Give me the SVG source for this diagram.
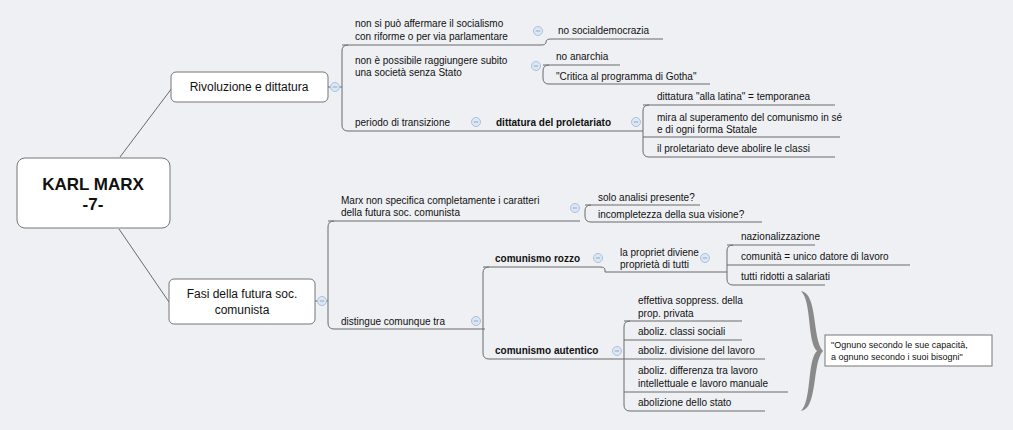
<svg xmlns="http://www.w3.org/2000/svg" width="1013" height="430" viewBox="0 0 1013 430">
<defs>
<style>
text{font-family:"Liberation Sans",Arial,sans-serif;font-size:10px;fill:#111}
.b{font-weight:bold}
.box{fill:#fff;stroke:#777;stroke-width:1}
.ln{fill:none;stroke:#6a6a6a;stroke-width:1}
.c{fill:#dde7f3;stroke:#a9c1de;stroke-width:1}
.m{stroke:#8fa9cc;stroke-width:1}
</style>
<g id="col"><circle class="c" cx="0" cy="0" r="4.5"/><line class="m" x1="-2.2" y1="0" x2="2.2" y2="0"/></g>
</defs>
<rect width="1013" height="430" fill="#eef0f3"/>
<g id="connectors">
<path class="ln" d="M120,157 L172,88 M119,229 L169,302"/>
<path class="ln" d="M328,87 H342 M348,45 Q342,45 342,51 V125 Q342,131 348,131 H485"/>
<path class="ln" d="M342,45 H541 Q546,45 546,42 Q546,39 551,39 H663"/>
<path class="ln" d="M549,65 Q543,65 543,71 V78 Q543,84 549,84 H710 M543,65 H620"/>
<path class="ln" d="M485,131 H640 M649,105 Q643,105 643,111 V151 Q643,157 649,157 H835 M643,105 H835 M643,137 H840 M640,131 H643"/>
<path class="ln" d="M315,301 H328 M334,221 Q328,221 328,227 V323 Q328,329 334,329 H485 M328,221 H580 M591,205 Q585,205 585,211 V216 Q585,222 591,222 H762 M585,205 H700"/>
<path class="ln" d="M489,267 Q483,267 483,273 V353 Q483,359 489,359 H624 M483,267 H600 Q605,267 605,270 V272 H727 M733,245 Q727,245 727,251 V279 Q727,285 733,285 H825 M727,245 H815 M727,265 H910"/>
<path class="ln" d="M630,321 Q624,321 624,327 V405 Q624,411 630,411 H765 M624,321 H742 M624,340 H742 M624,359 H765 M624,392 H788"/>
<path d="M801,291 C818,293 812,340 823,351 C812,362 818,409 801,411 C812,400 807,360 817,351 C807,342 812,302 801,291 Z" fill="#8a8a8a"/>
</g>
<g id="root"><rect class="box" x="17" y="158" width="153" height="70" rx="8"/><text class="b" x="93" y="190" text-anchor="middle" style="font-size:17px">KARL MARX</text><text class="b" x="93" y="210" text-anchor="middle" style="font-size:17px">-7-</text></g>
<g id="rivoluzione"><rect class="box" x="171" y="72" width="157" height="30" rx="5"/><text x="249" y="91" text-anchor="middle" style="font-size:12px">Rivoluzione e dittatura</text><use href="#col" x="335" y="87"/></g>
<g id="fasi"><rect class="box" x="169" y="279" width="146" height="45" rx="5"/><text x="242" y="298" text-anchor="middle" style="font-size:12px">Fasi della futura soc.</text><text x="242" y="314" text-anchor="middle" style="font-size:12px">comunista</text><use href="#col" x="322" y="301"/></g>
<g id="n1"><text x="355" y="27">non si può affermare il socialismo</text><text x="355" y="40">con riforme o per via parlamentare</text><use href="#col" x="538" y="31"/></g>
<g id="n1a"><text x="558" y="34">no socialdemocrazia</text></g>
<g id="n2"><text x="355" y="64">non è possibile raggiungere subito</text><text x="355" y="76">una società senza Stato</text><use href="#col" x="536" y="66"/></g>
<g id="n2a"><text x="556" y="60">no anarchia</text></g>
<g id="n2b"><text x="556" y="80">"Critica al programma di Gotha"</text></g>
<g id="n3"><text x="355" y="126">periodo di transizione</text><use href="#col" x="476" y="122"/></g>
<g id="n3a"><text class="b" x="496" y="126">dittatura del proletariato</text><use href="#col" x="636" y="122"/></g>
<g id="n3a1"><text x="657" y="100">dittatura "alla latina" = temporanea</text></g>
<g id="n3a2"><text x="657" y="121">mira al superamento del comunismo in sé</text><text x="657" y="133">e di ogni forma Statale</text></g>
<g id="n3a3"><text x="657" y="152">il proletariato deve abolire le classi</text></g>
<g id="m1"><text x="341" y="204">Marx non specifica completamente i caratteri</text><text x="341" y="216">della futura soc. comunista</text><use href="#col" x="575" y="208"/></g>
<g id="m1a"><text x="598" y="201">solo analisi presente?</text></g>
<g id="m1b"><text x="598" y="218">incompletezza della sua visione?</text></g>
<g id="m2"><text x="341" y="325">distingue comunque tra</text><use href="#col" x="476" y="321"/></g>
<g id="rozzo"><text class="b" x="495" y="262">comunismo rozzo</text><use href="#col" x="598" y="258"/></g>
<g id="rozzo1"><text x="620" y="256">la propriet diviene</text><text x="620" y="268">proprietà di tutti</text><use href="#col" x="705" y="258"/></g>
<g id="r1"><text x="741" y="240">nazionalizzazione</text></g>
<g id="r2"><text x="741" y="260">comunità = unico datore di lavoro</text></g>
<g id="r3"><text x="741" y="280">tutti ridotti a salariati</text></g>
<g id="autentico"><text class="b" x="495" y="354">comunismo autentico</text><use href="#col" x="617" y="351"/></g>
<g id="a1"><text x="638" y="304">effettiva soppress. della</text><text x="638" y="317">prop. privata</text></g>
<g id="a2"><text x="638" y="335">aboliz. classi sociali</text></g>
<g id="a3"><text x="638" y="354">aboliz. divisione del lavoro</text></g>
<g id="a4"><text x="638" y="374">aboliz. differenza tra lavoro</text><text x="638" y="387">intellettuale e lavoro manuale</text></g>
<g id="a5"><text x="638" y="406">abolizione dello stato</text></g>
<g id="quote"><rect x="825" y="335" width="167" height="31" fill="#fff" stroke="#777"/><text x="831" y="348" style="font-size:9px">"Ognuno secondo le sue capacità,</text><text x="831" y="360" style="font-size:9px">a ognuno secondo i suoi bisogni"</text></g>
</svg>
